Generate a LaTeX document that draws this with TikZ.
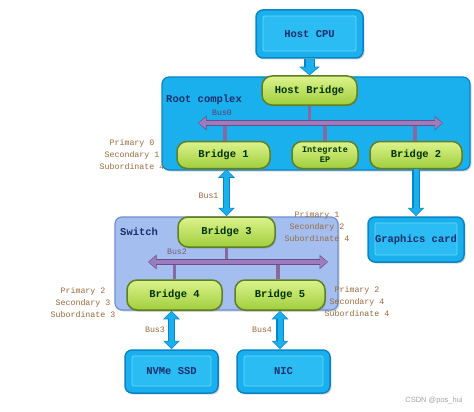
\documentclass[tikz,border=0pt]{standalone}
\usepackage{fontspec}
\setmainfont{Liberation Serif}
\newfontfamily\mono{Liberation Mono}
\newfontfamily\wmfont{Liberation Sans}
\usetikzlibrary{arrows.meta,shadows}
\definecolor{cyanA}{HTML}{1AB0EE}
\definecolor{cyanB}{HTML}{2BBCF4}
\definecolor{cyanD}{HTML}{0A84C6}
\definecolor{cyanL}{HTML}{6AD6FA}
\definecolor{greenT}{HTML}{DCF38C}
\definecolor{greenB}{HTML}{A0CE3C}
\definecolor{greenD}{HTML}{5E7F22}
\definecolor{purp}{HTML}{9C7CBC}
\definecolor{purpD}{HTML}{6A4E8C}
\definecolor{brownT}{HTML}{9A6A3A}
\definecolor{buslbl}{HTML}{7A5878}
\definecolor{busdark}{HTML}{5E3C6E}
\definecolor{navy}{HTML}{1B2E6A}
\definecolor{swfill}{HTML}{A4BEF0}
\definecolor{swdraw}{HTML}{6F8FCC}
\tikzset{
  container/.style={rounded corners=7pt, line width=1.2pt, inner sep=0pt},
  bluebox/.style={rounded corners=7pt, fill=cyanA, draw=cyanD, line width=1.5pt,
    inner sep=0pt, text=navy, font=\mono\bfseries\fontsize{10.5}{12}\selectfont,
    drop shadow={shadow xshift=1.5pt, shadow yshift=-1.5pt, opacity=0.3},
    path picture={\draw[cyanL, line width=0.8pt, fill=cyanB, rounded corners=2pt]
      ([shift={(7pt,-6pt)}]path picture bounding box.north west) rectangle
      ([shift={(-7pt,7pt)}]path picture bounding box.south east);}},
  bridge/.style={rounded corners=10pt, top color=greenT, bottom color=greenB,
    draw=greenD, line width=1.5pt, inner sep=0pt, minimum height=27pt,
    text=black!80!green, font=\mono\bfseries\fontsize{10.5}{12}\selectfont,
    drop shadow={shadow xshift=1pt, shadow yshift=-1.5pt, opacity=0.35}},
  lbl/.style={text=brownT, align=center, inner sep=0pt,
    font=\mono\fontsize{8.3}{12}\selectfont},
  busl/.style={text=buslbl, inner sep=0pt, font=\mono\fontsize{8.3}{10}\selectfont},
  bus/.style={line width=4pt, draw=purp,
    {Triangle[length=7pt,width=11pt]}-{Triangle[length=7pt,width=11pt]},
    shorten >=0.8pt, shorten <=0.8pt,
    preaction={draw=purpD, line width=6.5pt,
      {Triangle[length=8.5pt,width=14pt]}-{Triangle[length=8.5pt,width=14pt]},
      shorten >=0pt, shorten <=0pt}},
  stub/.style={draw=purp!85!black, line width=3.2pt},
  fatcpu/.style={line width=8pt, draw=cyanA, -{Triangle[length=7pt,width=17pt]},
    shorten >=0.9pt,
    preaction={draw=cyanD, line width=10.5pt, -{Triangle[length=8.5pt,width=20pt]},
      shorten >=0pt}},
  fatone/.style={line width=5pt, draw=cyanA, -{Triangle[length=7pt,width=13pt]},
    shorten >=0.9pt,
    preaction={draw=cyanD, line width=7.5pt, -{Triangle[length=8.5pt,width=16pt]},
      shorten >=0pt}},
  fattwo/.style={line width=5pt, draw=cyanA,
    {Triangle[length=7pt,width=13pt]}-{Triangle[length=7pt,width=13pt]},
    shorten >=0.9pt, shorten <=0.9pt,
    preaction={draw=cyanD, line width=7.5pt,
      {Triangle[length=8.5pt,width=16pt]}-{Triangle[length=8.5pt,width=16pt]},
      shorten >=0pt, shorten <=0pt}}
}
\begin{document}
\begin{tikzpicture}[x=1pt,y=-1pt]
\useasboundingbox (0,0) rectangle (474,412);
\fill[white] (0,0) rectangle (474,412);

% containers
\node[container, fill=cyanA, draw=cyanD, minimum width=308pt, minimum height=93pt,
  drop shadow={shadow xshift=1.5pt, shadow yshift=-1.5pt, opacity=0.3}] (rc) at (316,123.5) {};
\node[container, fill=swfill, draw=swdraw, minimum width=223pt, minimum height=93pt,
  drop shadow={shadow xshift=1.5pt, shadow yshift=-1.5pt, opacity=0.3}] (sw) at (226.5,263.5) {};
\node[anchor=west, inner sep=0pt, text=navy, font=\mono\bfseries\fontsize{10.5}{12}\selectfont] (rclbl) at (166,100) {Root complex};
\node[anchor=west, inner sep=0pt, text=navy, font=\mono\bfseries\fontsize{10.5}{12}\selectfont] (swlbl) at (120,232) {Switch};

% blue boxes
\node[bluebox, minimum width=107pt, minimum height=48pt] (cpu) at (309.5,34) {Host CPU};
\node[bluebox, minimum width=96pt, minimum height=45pt] (gc) at (416,239.5) {Graphics card};
\node[bluebox, minimum width=93pt, minimum height=43pt] (nvme) at (171.5,371.5) {NVMe SSD};
\node[bluebox, minimum width=93pt, minimum height=43pt] (nic) at (283.5,371.5) {NIC};

% bridges
\node[bridge, minimum width=95pt, minimum height=29pt] (hb) at (309.5,90.5) {Host Bridge};
\node[bridge, minimum width=93pt] (b1) at (223.5,155) {Bridge 1};
\node[bridge, minimum width=66pt, align=center, font=\mono\bfseries\fontsize{8.5}{10}\selectfont] (ep) at (325,155) {Integrate\\EP};
\node[bridge, minimum width=92pt] (b2) at (416,155) {Bridge 2};
\node[bridge, minimum width=97pt, minimum height=30pt] (b3) at (226.5,232) {Bridge 3};
\node[bridge, minimum width=95pt, minimum height=30pt] (b4) at (174.5,295) {Bridge 4};
\node[bridge, minimum width=90pt, minimum height=30pt] (b5) at (280,295) {Bridge 5};

% buses
\coordinate (b0l) at (198,123);
\coordinate (b0r) at (443,123);
\coordinate (b2l) at (148,262);
\coordinate (b2r) at (328,262);
\draw[stub] (hb.south) -- (hb.south |- b0l);
\draw[stub] (b1.north -| 225,0) -- (b0l -| 225,0);
\draw[stub] (ep.north) -- (ep.north |- b0l);
\draw[stub] (b2.north -| 415,0) -- (b0l -| 415,0);
\draw[stub] (b3.south) -- (b3.south |- b2l);
\draw[stub] (b4.north) -- (b4.north |- b2l);
\draw[stub] (b5.north -| 278,0) -- (b2l -| 278,0);
\draw[bus] (b0l) -- (b0r);
\draw[bus] (b2l) -- (b2r);
\node[busl, text=busdark] (bus0) at (222,113) {Bus0};
\node[busl] (bus2) at (177,252) {Bus2};

% fat arrows
\draw[fatcpu] (cpu.south) -- (hb.north);
\draw[fattwo] (b1.south -| b3.north) -- (b3.north);
\draw[fatone] (b2.south) -- (gc.north);
\draw[fattwo] (b4.south -| nvme.north) -- (nvme.north);
\draw[fattwo] (b5.south) -- (b5.south |- nic.north);
\node[busl, text=brownT] (bus1) at (208.5,196) {Bus1};
\node[busl, text=brownT] (bus3) at (155,330) {Bus3};
\node[busl, text=brownT] (bus4) at (262,330) {Bus4};

% labels
\node[lbl] (l1) at (132,155) {Primary 0\\Secondary 1\\Subordinate 4};
\node[lbl] (l3) at (317,227) {Primary 1\\Secondary 2\\Subordinate 4};
\node[lbl] (l4) at (83,303) {Primary 2\\Secondary 3\\Subordinate 3};
\node[lbl] (l5) at (357,302) {Primary 2\\Secondary 4\\Subordinate 4};

\node[text=gray!70, inner sep=0pt, font=\wmfont\fontsize{7.5}{9}\selectfont] (wm) at (434,401) {CSDN @pos\_hui};
\end{tikzpicture}
\end{document}
